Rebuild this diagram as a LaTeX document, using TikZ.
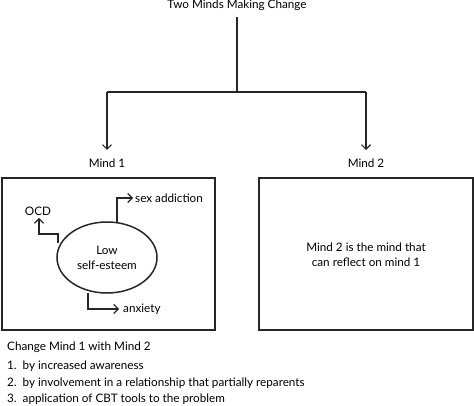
\documentclass[tikz,border=0pt]{standalone}
\usepackage{fontspec}
\setmainfont{Lato}
\usetikzlibrary{arrows.meta,shapes.geometric}
\definecolor{ink}{HTML}{262626}
\tikzset{
  conn/.style={draw=ink, line width=1.2pt, -{Straight Barb[length=4.5pt,width=9pt,line width=1.1pt]}},
  plain/.style={draw=ink, line width=1.2pt},
  box/.style={draw=ink, line width=1.5pt},
  lbl/.style={inner sep=0pt, text=black, font=\fontsize{11.7}{14}\selectfont},
}
\begin{document}
\begin{tikzpicture}[x=1pt,y=-1pt]
\useasboundingbox (0,0) rectangle (474,406);
% title
\node[lbl] (title) at (237,5.5) {Two Minds Making Change};
\coordinate (top) at (237,17);
\coordinate (junc) at (237,92);
\coordinate (lft) at (107,92);
\coordinate (rgt) at (366,92);
\node[lbl] (m1) at (107,163) {Mind 1};
\node[lbl] (m2) at (366,163) {Mind 2};
\coordinate (m1tip) at (107,150);
\coordinate (m2tip) at (366,150);
\draw[plain] (top) -- (junc);
\draw[plain] (lft) -- (rgt);
\draw[conn] (lft) -- (m1tip);
\draw[conn] (rgt) -- (m2tip);
% boxes
\draw[box] (2,178) rectangle (215,330);
\draw[box] (259,178) rectangle (473,330);
% ellipse
\node[ellipse, draw=ink, line width=1.5pt, minimum width=100pt, minimum height=71pt, inner sep=0pt] (lse) at (107,257.5) {};
\node[lbl, align=center] (lsetxt) at (107,258) {Low\\[1pt]self-esteem};
\node[lbl] (ocd) at (38,211) {OCD};
\node[lbl, anchor=west] (sex) at (135,198) {sex addiction};
\node[lbl, anchor=west] (anx) at (123,309) {anxiety};
\coordinate (o1) at (58,243);
\coordinate (o2) at (58,234);
\coordinate (o3) at (39,234);
\coordinate (o4) at (39,218);
\draw[conn] (o1) -- (o2) -- (o3) -- (o4);
\coordinate (s1) at (117,223);
\coordinate (s2) at (117,198);
\coordinate (s3) at (133,198);
\draw[conn] (s1) -- (s2) -- (s3);
\coordinate (a1) at (88,293);
\coordinate (a2) at (88,309);
\coordinate (a3) at (119,309);
\draw[conn] (a1) -- (a2) -- (a3);
% mind 2 text
\node[lbl, align=center] (m2txt) at (366,255) {Mind 2 is the mind that\\[1pt]can reflect on mind 1};
% bottom text
\node[lbl, anchor=west] (chg) at (7,347) {Change Mind 1 with Mind 2};
\node[lbl, anchor=west] (i1) at (7,366) {1.\ \ by increased awareness};
\node[lbl, anchor=west] (i2) at (7,383) {2.\ \ by involvement in a relationship that partially reparents};
\node[lbl, anchor=west] (i3) at (7,399) {3.\ \ application of CBT tools to the problem};
\end{tikzpicture}
\end{document}
